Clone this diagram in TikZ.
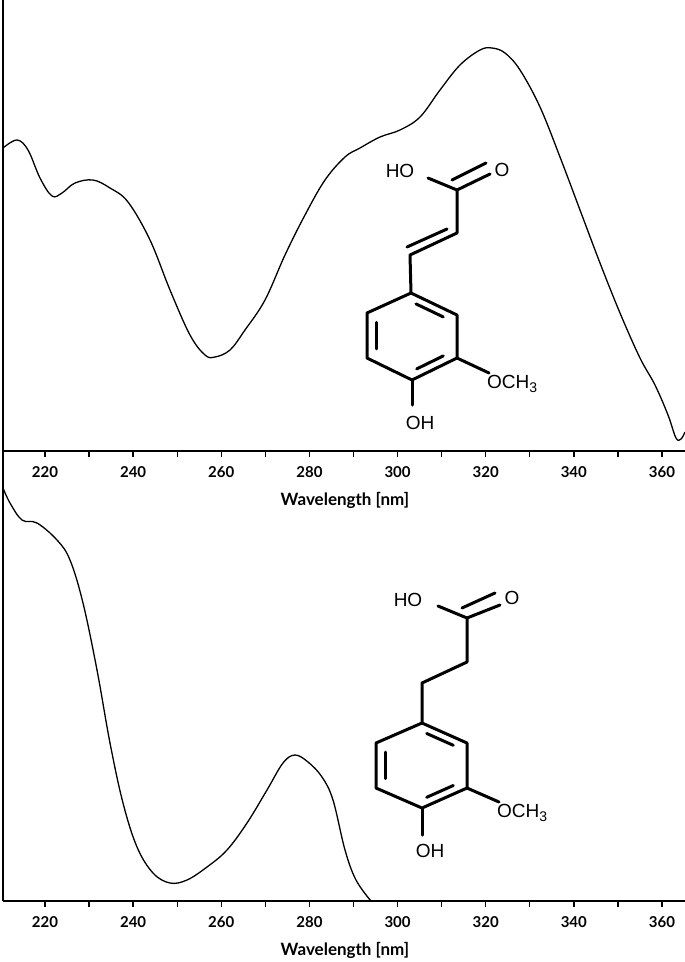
\documentclass[tikz,border=0pt]{standalone}
\usepackage{fontspec}
\setmainfont{Lato}
\newfontfamily\molfont{Liberation Sans}
\usetikzlibrary{calc}
\begin{document}
\begin{tikzpicture}[x=1pt,y=-1pt,
  curve/.style={line width=1.3pt,line join=round},
  axisline/.style={line width=1.6pt},
  bond/.style={line width=3pt,line cap=round,line join=round},
  ticklab/.style={font=\bfseries\fontsize{15}{15}\selectfont,anchor=center},
  axlab/.style={font=\bfseries\fontsize{17}{17}\selectfont,anchor=center},
  atom/.style={font=\molfont\fontsize{19}{19}\selectfont,inner sep=0pt,anchor=center}]
\path[use as bounding box] (0,0) rectangle (685,962);
% axes
\draw[axisline] (3,0) -- (3,901);
\draw[axisline] (3,451) -- (685,451);
\draw[axisline] (3,901) -- (685,901);
\foreach \l in {220,230,...,360}{
  \pgfmathsetmacro\xx{45+(\l-220)*4.407}
  \draw[line width=1.4pt] (\xx,451) -- (\xx,457);
  \draw[line width=1.4pt] (\xx,901) -- (\xx,907);
}
\foreach \l in {220,240,...,360}{
  \pgfmathsetmacro\xx{45+(\l-220)*4.407}
  \node[ticklab] at (\xx,472) {\l};
  \node[ticklab] at (\xx,922) {\l};
}
\node[axlab] (xl1) at (345,500) {Wavelength [nm]};
\node[axlab] (xl2) at (345,950) {Wavelength [nm]};
% top curve
\draw[curve] plot[smooth,tension=0.6] coordinates {
 (3,148) (17,140) (28,150) (40,178) (52,196) (62,193) (75,183) (93,180) (110,188)
 (128,202) (150,240) (170,290) (190,335) (205,355) (215,357) (230,350) (245,330)
 (265,300) (285,255) (305,215) (325,180) (345,157) (360,148) (380,137) (400,130)
 (420,117) (440,90) (460,65) (480,50) (492,48) (505,53) (520,70) (540,107)
 (560,157) (580,210) (600,263) (620,313) (640,358) (655,385) (668,415) (676,438)
 (681,439) (685,432)};
% bottom curve
\draw[curve] plot[smooth,tension=0.6] coordinates {
 (3,488) (10,503) (22,520) (37,523) (57,540) (70,560) (83,603) (97,670) (110,743)
 (123,803) (137,847) (153,873) (170,883) (187,880) (207,867) (227,850) (247,823)
 (267,790) (283,763) (295,755) (308,762) (322,777) (333,800) (345,850) (356,880) (371,901)};
% molecule 1 (ferulic acid)
\coordinate (c1) at (457,190);
\coordinate (c2) at (457,233);
\coordinate (c3) at (410,255);
\coordinate (r1) at (411,293);
\coordinate (r2) at (457,315);
\coordinate (r3) at (457,358);
\coordinate (r4) at (412,380);
\coordinate (r5) at (367,358);
\coordinate (r6) at (367,313);
\coordinate (rc) at (412,336);
\node[atom] (ho1) at (400,171) {HO};
\node[atom] (o1) at (502,170) {O};
\node[atom,anchor=west] (me1) at (487,384) {OCH\textsubscript{\fontsize{14}{14}\selectfont 3}};
\node[atom] (oh1) at (420,423) {OH};
\draw[bond] (428,178) -- (c1) -- (c2) -- (c3) -- (r1);
\draw[bond] (c1) -- (490,174);
\draw[bond] (452,180) -- (486,163);
\draw[bond] (447,229) -- (407,247);
\draw[bond] (r1) -- (r2) -- (r3) -- (r4) -- (r5) -- (r6) -- cycle;
\draw[bond] (r3) -- (489,373);
\draw[bond] (r4) -- (412,405);
\foreach \a/\b in {r1/r2,r3/r4,r5/r6}
  \draw[bond] ($ ($(rc)!0.8!(\a)$)!0.13!($(rc)!0.8!(\b)$) $) -- ($ ($(rc)!0.8!(\b)$)!0.13!($(rc)!0.8!(\a)$) $);
% molecule 2 (dihydroferulic acid)
\coordinate (d1) at (467,618);
\coordinate (d2) at (467,662);
\coordinate (d3) at (422,683);
\coordinate (s1) at (422,723);
\coordinate (s2) at (467,743);
\coordinate (s3) at (467,788);
\coordinate (s4) at (422,808);
\coordinate (s5) at (376,788);
\coordinate (s6) at (376,743);
\coordinate (sc) at (422,765);
\node[atom] (ho2) at (408,600) {HO};
\node[atom] (o2) at (512,598) {O};
\node[atom,anchor=west] (me2) at (497,813) {OCH\textsubscript{\fontsize{14}{14}\selectfont 3}};
\node[atom] (oh2) at (430,851) {OH};
\draw[bond] (438,606) -- (d1) -- (d2) -- (d3) -- (s1);
\draw[bond] (d1) -- (500,605);
\draw[bond] (462,608) -- (495,593);
\draw[bond] (s1) -- (s2) -- (s3) -- (s4) -- (s5) -- (s6) -- cycle;
\draw[bond] (s3) -- (499,802);
\draw[bond] (s4) -- (422,835);
\foreach \a/\b in {s1/s2,s3/s4,s5/s6}
  \draw[bond] ($ ($(sc)!0.8!(\a)$)!0.13!($(sc)!0.8!(\b)$) $) -- ($ ($(sc)!0.8!(\b)$)!0.13!($(sc)!0.8!(\a)$) $);
\end{tikzpicture}
\end{document}
